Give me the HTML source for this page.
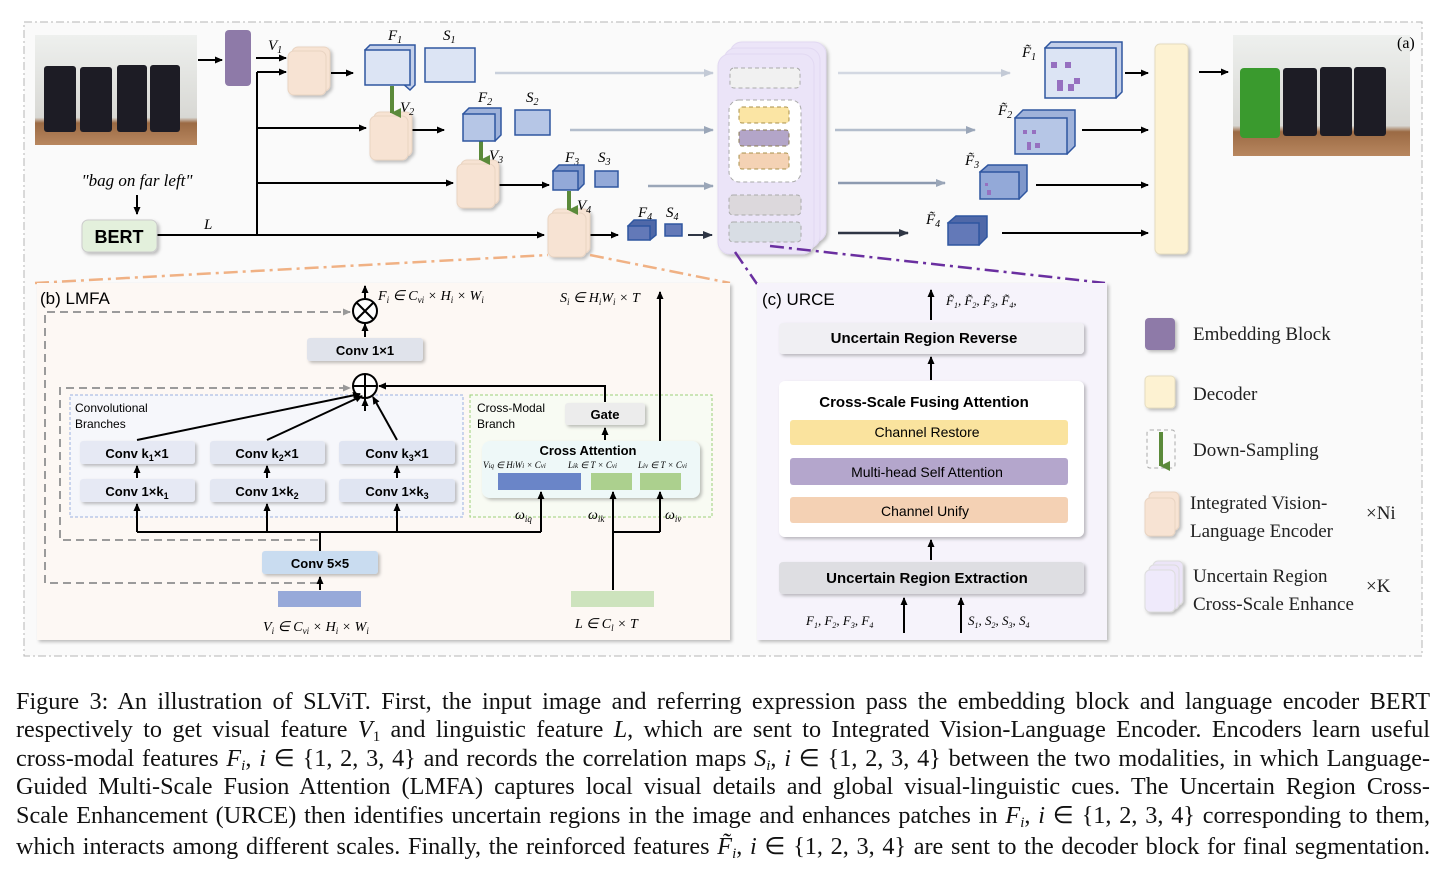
<!DOCTYPE html>
<html><head><meta charset="utf-8"><style>
body{margin:0;background:#fff;width:1440px;height:875px;overflow:hidden}
svg{position:absolute;left:0;top:0}
.cap{position:absolute;left:16px;top:688px;width:1414px;font-family:"Liberation Serif",serif;font-size:24.2px;line-height:28.4px;color:#111}
.cap div{text-align:justify;text-align-last:justify;white-space:nowrap;height:28.4px}
.cap div.l{margin-top:3px}
.cap sub{font-size:15px;line-height:0;vertical-align:-4px}
i{font-style:italic}
</style></head><body>
<svg width="1440" height="680" viewBox="0 0 1440 680" font-family="Liberation Sans, sans-serif">
<defs>
<marker id="a" markerWidth="8" markerHeight="8" refX="7" refY="4" orient="auto" markerUnits="userSpaceOnUse"><path d="M0,0.5 L8,4 L0,7.5z" fill="#000"/></marker>
<marker id="g" markerWidth="10" markerHeight="8" refX="9" refY="4" orient="auto" markerUnits="userSpaceOnUse"><path d="M0,0 L10,4 L0,8z" fill="#c3cad6"/></marker>
<marker id="g2" markerWidth="10" markerHeight="8" refX="9" refY="4" orient="auto" markerUnits="userSpaceOnUse"><path d="M0,0 L10,4 L0,8z" fill="#9aa6b8"/></marker>
<marker id="g3" markerWidth="10" markerHeight="8" refX="9" refY="4" orient="auto" markerUnits="userSpaceOnUse"><path d="M0,0 L10,4 L0,8z" fill="#2e3544"/></marker>
<marker id="gr" markerWidth="10" markerHeight="10" refX="5" refY="9" orient="auto" markerUnits="userSpaceOnUse"><path d="M0,0 L10,0 L5,10z" fill="#5b8a3a"/></marker>
<marker id="gd" markerWidth="8" markerHeight="8" refX="7" refY="4" orient="auto" markerUnits="userSpaceOnUse"><path d="M0,0.5 L8,4 L0,7.5z" fill="#999"/></marker>
<linearGradient id="img" x1="0" y1="0" x2="0" y2="1"><stop offset="0" stop-color="#eef0ee"/><stop offset="0.75" stop-color="#d8d8d4"/><stop offset="0.8" stop-color="#9b6a44"/><stop offset="1" stop-color="#b8875f"/></linearGradient>
<filter id="sh" x="-10%" y="-10%" width="130%" height="130%"><feDropShadow dx="2" dy="2" stdDeviation="1.5" flood-color="#000" flood-opacity="0.25"/></filter>
</defs>
<rect x="24" y="22" width="1398" height="634" fill="#fafafa" stroke="#b5b5b5" stroke-dasharray="8,3,2,3"/>
<rect x="35" y="35" width="162" height="110" fill="url(#img)"/>
<g fill="#1d1c25"><rect x="44" y="66" width="32" height="66" rx="3"/><rect x="80" y="67" width="32" height="65" rx="3"/><rect x="117" y="65" width="30" height="67" rx="3"/><rect x="150" y="65" width="30" height="67" rx="3"/></g>
<rect x="1233" y="35" width="177" height="121" fill="url(#img)"/>
<g fill="#1d1c25"><rect x="1283" y="68" width="34" height="68" rx="3"/><rect x="1320" y="67" width="32" height="69" rx="3"/><rect x="1354" y="67" width="32" height="69" rx="3"/></g>
<rect x="1240" y="68" width="40" height="70" rx="4" fill="#3a9a2e"/>
<text x="1397" y="48" font-family="Liberation Serif,serif" font-size="16">(a)</text>
<rect x="225" y="30" width="26" height="56" rx="4" fill="#8e7aa8"/>
<g stroke="#000" stroke-width="2" fill="none" marker-end="url(#a)">
<line x1="198" y1="60" x2="222" y2="60"/>
<line x1="256" y1="58" x2="286" y2="58"/>
<line x1="257" y1="72" x2="286" y2="72"/>
<line x1="257" y1="128" x2="366" y2="128"/>
<line x1="257" y1="183" x2="453" y2="183"/>
<line x1="157" y1="235" x2="544" y2="235"/>
<line x1="331" y1="73" x2="353" y2="73"/>
<line x1="412" y1="130" x2="444" y2="130"/>
<line x1="499" y1="185" x2="549" y2="185"/>
<line x1="590" y1="235" x2="618" y2="235"/>
<line x1="137" y1="195" x2="137" y2="214"/>
<line x1="1199" y1="72" x2="1228" y2="72"/>
<line x1="1125" y1="73" x2="1148" y2="73"/>
<line x1="1082" y1="130" x2="1148" y2="130"/>
<line x1="1036" y1="185" x2="1148" y2="185"/>
<line x1="1002" y1="233" x2="1148" y2="233"/>
</g>
<line x1="257" y1="72" x2="257" y2="236" stroke="#000" stroke-width="2"/>
<text x="268" y="50" font-family="Liberation Serif,serif" font-style="italic" font-size="15">V<tspan font-size="10" dy="3">1</tspan></text>
<text x="204" y="229" font-family="Liberation Serif,serif" font-style="italic" font-size="15">L</text>
<text x="137" y="186" text-anchor="middle" font-family="Liberation Serif,serif" font-style="italic" font-size="17">"bag on far left"</text>
<rect x="82" y="220" width="75" height="32" rx="6" fill="#e3f0dc" stroke="#ccc" filter="url(#sh)"/>
<text x="119" y="243" text-anchor="middle" font-weight="bold" font-size="18">BERT</text>
<g fill="#f7e3d3" stroke="#e9d4c2" filter="url(#sh)">
<rect x="292" y="47" width="38" height="44" rx="6"/><rect x="288" y="51" width="38" height="44" rx="6"/>
<rect x="374" y="112" width="38" height="44" rx="6"/><rect x="370" y="116" width="38" height="44" rx="6"/>
<rect x="461" y="160" width="38" height="44" rx="6"/><rect x="457" y="164" width="38" height="44" rx="6"/>
<rect x="552" y="209" width="38" height="44" rx="6"/><rect x="548" y="213" width="38" height="44" rx="6"/>
</g>
<g stroke="#5b8a3a" stroke-width="4" marker-end="url(#gr)"><line x1="392" y1="86" x2="392" y2="113"/><line x1="481" y1="138" x2="481" y2="160"/><line x1="569" y1="191" x2="569" y2="210"/></g>
<g font-family="Liberation Serif,serif" font-style="italic" font-size="15">
<text x="400" y="112">V<tspan font-size="10" dy="3">2</tspan></text>
<text x="489" y="160">V<tspan font-size="10" dy="3">3</tspan></text>
<text x="577" y="210">V<tspan font-size="10" dy="3">4</tspan></text>
<text x="388" y="40">F<tspan font-size="10" dy="3">1</tspan></text><text x="443" y="40">S<tspan font-size="10" dy="3">1</tspan></text>
<text x="478" y="102">F<tspan font-size="10" dy="3">2</tspan></text><text x="526" y="102">S<tspan font-size="10" dy="3">2</tspan></text>
<text x="565" y="162">F<tspan font-size="10" dy="3">3</tspan></text><text x="598" y="162">S<tspan font-size="10" dy="3">3</tspan></text>
<text x="638" y="217">F<tspan font-size="10" dy="3">4</tspan></text><text x="666" y="217">S<tspan font-size="10" dy="3">4</tspan></text>
</g>
<g stroke="#2f56a0" stroke-width="1.5">
<path d="M365,50 l5,-5 h45 v40 l-5,5z" fill="#c4d0ea"/><rect x="365" y="50" width="45" height="35" fill="#dce4f4"/>
<rect x="425" y="48" width="50" height="34" fill="#dce4f4"/>
<path d="M463,114 l6,-6 h32 v27 l-6,6z" fill="#9fb2da"/><rect x="463" y="114" width="32" height="27" fill="#b6c6e6"/>
<rect x="515" y="110" width="35" height="25" fill="#b6c6e6"/>
<path d="M553,171 l6,-6 h25 v19 l-6,6z" fill="#7f97ca"/><rect x="553" y="171" width="25" height="19" fill="#93a9d8"/>
<rect x="595" y="171" width="23" height="16" fill="#93a9d8"/>
<path d="M628,226 l6,-6 h22 v15 l-6,5z" fill="#4f68a8"/><rect x="628" y="226" width="22" height="14" fill="#6379b8"/>
<rect x="665" y="224" width="17" height="12" fill="#6379b8"/>
</g>
<line x1="688" y1="235" x2="712" y2="235" stroke="#2e3544" stroke-width="2" marker-end="url(#g3)"/>
<g stroke-width="2.5"><line x1="495" y1="73" x2="713" y2="73" stroke="#c9d0dc" marker-end="url(#g)"/><line x1="570" y1="130" x2="713" y2="130" stroke="#b3bdcc" marker-end="url(#g2)"/><line x1="648" y1="186" x2="713" y2="186" stroke="#9aa6b8" marker-end="url(#g2)"/>
<line x1="838" y1="73" x2="1010" y2="73" stroke="#d3d8e2" marker-end="url(#g)"/><line x1="835" y1="130" x2="975" y2="130" stroke="#b3bdcc" marker-end="url(#g2)"/><line x1="838" y1="183" x2="945" y2="183" stroke="#8d9ab0" marker-end="url(#g2)"/><line x1="838" y1="233" x2="908" y2="233" stroke="#2e3544" marker-end="url(#g3)"/></g>
<g stroke="#e2d9f2" filter="url(#sh)"><rect x="730" y="42" width="96" height="200" rx="12" fill="#ece5f8"/><rect x="724" y="48" width="96" height="200" rx="12" fill="#ebe4f8"/><rect x="718" y="54" width="96" height="200" rx="12" fill="#ebe4f8"/></g>
<g stroke="#aaa" stroke-dasharray="4,3"><rect x="730" y="68" width="70" height="20" rx="4" fill="#f1f1f1"/><rect x="729" y="100" width="72" height="82" rx="10" fill="#fff"/>
<rect x="739" y="107" width="50" height="16" rx="3" fill="#fbe5a4" stroke="#a8904a"/><rect x="739" y="130" width="50" height="16" rx="3" fill="#b3a5c8" stroke="#8a7a50"/><rect x="739" y="153" width="50" height="16" rx="3" fill="#f4d2b4" stroke="#a8904a"/>
<rect x="729" y="195" width="72" height="20" rx="4" fill="#dcd8dc"/><rect x="729" y="222" width="72" height="20" rx="4" fill="#d8dde4"/></g>
<g stroke="#2f56a0" stroke-width="1.5">
<path d="M1045,48 l6,-6 h71 v50 l-6,6z" fill="#c4d0ea"/><rect x="1045" y="48" width="71" height="50" fill="#dce4f4"/>
<path d="M1015,118 l8,-8 h52 v36 l-8,8z" fill="#9fb2da"/><rect x="1015" y="118" width="52" height="36" fill="#b6c6e6"/>
<path d="M980,172 l8,-7 h39 v26 l-8,8z" fill="#7f97ca"/><rect x="980" y="172" width="39" height="27" fill="#93a9d8"/>
<path d="M948,223 l8,-7 h31 v21 l-8,8z" fill="#4f68a8"/><rect x="948" y="223" width="31" height="22" fill="#6379b8"/>
</g>
<g fill="#9670c0"><rect x="1051" y="62" width="6" height="6"/><rect x="1065" y="62" width="6" height="6"/><rect x="1057" y="80" width="6" height="11"/><rect x="1068" y="84" width="6" height="7"/><rect x="1074" y="78" width="6" height="6"/>
<rect x="1023" y="130" width="4" height="4"/><rect x="1032" y="130" width="4" height="4"/><rect x="1027" y="142" width="4" height="8"/><rect x="1035" y="143" width="5" height="5"/>
<rect x="985" y="183" width="3" height="3"/><rect x="987" y="190" width="4" height="5"/></g>
<g font-family="Liberation Serif,serif" font-style="italic" font-size="15">
<text x="1022" y="57">F̃<tspan font-size="10" dy="3">1</tspan></text><text x="998" y="115">F̃<tspan font-size="10" dy="3">2</tspan></text>
<text x="965" y="165">F̃<tspan font-size="10" dy="3">3</tspan></text><text x="926" y="224">F̃<tspan font-size="10" dy="3">4</tspan></text></g>
<rect x="1155" y="44" width="33" height="210" rx="5" fill="#fdf2d2" stroke="#e5dcc0" filter="url(#sh)"/>
<polyline points="35,283 548,255" fill="none" stroke="#f0b184" stroke-width="2.5" stroke-dasharray="14,5,3,5"/>
<polyline points="590,255 730,283" fill="none" stroke="#f0b184" stroke-width="2.5" stroke-dasharray="14,5,3,5"/>
<line x1="735" y1="252" x2="757" y2="284" stroke="#6a2fa0" stroke-width="2.5" stroke-dasharray="14,5,3,5"/>
<line x1="770" y1="246" x2="1105" y2="283" stroke="#6a2fa0" stroke-width="2.5" stroke-dasharray="14,5,3,5"/>
<rect x="37" y="283" width="693" height="357" fill="#fdf8f4" filter="url(#sh)"/>
<text x="40" y="304" font-size="17">(b) LMFA</text>
<rect x="70" y="395" width="393" height="122" fill="#f6f7fb" stroke="#9bb1e0" stroke-dasharray="3,2"/>
<rect x="470" y="395" width="242" height="122" fill="#f8fbf3" stroke="#9bd07a" stroke-dasharray="3,2"/>
<text x="75" y="412" font-size="12">Convolutional</text><text x="75" y="428" font-size="12">Branches</text>
<text x="477" y="412" font-size="12">Cross-Modal</text><text x="477" y="428" font-size="12">Branch</text>
<g stroke="#9b9b9b" stroke-width="2" stroke-dasharray="8,5" fill="none">
<polyline points="318,583 45,583 45,312 350,312" marker-end="url(#gd)"/>
<polyline points="318,540 60,540 60,388 350,388" marker-end="url(#gd)"/></g>
<g filter="url(#sh)">
<rect x="307" y="338" width="116" height="23" rx="3" fill="#e0e3eb"/>
<rect x="80" y="441" width="115" height="23" rx="3" fill="#e6e9f4"/><rect x="210" y="441" width="115" height="23" rx="3" fill="#e3e7f2"/><rect x="339" y="441" width="116" height="23" rx="3" fill="#e0e5f2"/>
<rect x="80" y="479" width="115" height="23" rx="3" fill="#e6e9f4"/><rect x="210" y="479" width="115" height="23" rx="3" fill="#e3e7f2"/><rect x="339" y="479" width="116" height="23" rx="3" fill="#e0e5f2"/>
<rect x="565" y="403" width="80" height="22" rx="3" fill="#ececec"/>
<rect x="482" y="441" width="218" height="57" rx="8" fill="#eef8f8"/>
<rect x="262" y="551" width="116" height="23" rx="3" fill="#c9dcf0"/>
</g>
<g font-size="13" font-weight="bold" text-anchor="middle">
<text x="365" y="355">Conv 1×1</text>
<text x="137" y="458">Conv k<tspan font-size="9" dy="3">1</tspan><tspan dy="-3">×1</tspan></text><text x="267" y="458">Conv k<tspan font-size="9" dy="3">2</tspan><tspan dy="-3">×1</tspan></text><text x="397" y="458">Conv k<tspan font-size="9" dy="3">3</tspan><tspan dy="-3">×1</tspan></text>
<text x="137" y="496">Conv 1×k<tspan font-size="9" dy="3">1</tspan></text><text x="267" y="496">Conv 1×k<tspan font-size="9" dy="3">2</tspan></text><text x="397" y="496">Conv 1×k<tspan font-size="9" dy="3">3</tspan></text>
<text x="605" y="419">Gate</text><text x="588" y="455">Cross Attention</text><text x="320" y="568">Conv 5×5</text></g>
<g font-family="Liberation Serif,serif" font-style="italic" font-size="9"><text x="483" y="468">V<tspan font-size="7">iq</tspan> ∈ H<tspan font-size="7">i</tspan>W<tspan font-size="7">i</tspan> × C<tspan font-size="7">vi</tspan></text><text x="568" y="468">L<tspan font-size="7">ik</tspan> ∈ T × C<tspan font-size="7">vi</tspan></text><text x="638" y="468">L<tspan font-size="7">iv</tspan> ∈ T × C<tspan font-size="7">vi</tspan></text></g>
<rect x="498" y="473" width="83" height="17" fill="#6a85c8"/><rect x="591" y="473" width="41" height="17" fill="#acd08e"/><rect x="640" y="473" width="41" height="17" fill="#acd08e"/>
<rect x="278" y="591" width="83" height="16" fill="#97a9d9"/><rect x="571" y="591" width="83" height="16" fill="#cde3bd"/>
<g font-family="Liberation Serif,serif" font-style="italic" font-size="14">
<text x="263" y="631">V<tspan font-size="9" dy="3">i</tspan><tspan dy="-3"> ∈ C</tspan><tspan font-size="9" dy="3">vi</tspan><tspan dy="-3"> × H</tspan><tspan font-size="9" dy="3">i</tspan><tspan dy="-3"> × W</tspan><tspan font-size="9" dy="3">i</tspan></text>
<text x="575" y="628">L ∈ C<tspan font-size="9" dy="3">l</tspan><tspan dy="-3"> × T</tspan></text>
<text x="378" y="300">F<tspan font-size="9" dy="3">i</tspan><tspan dy="-3"> ∈ C</tspan><tspan font-size="9" dy="3">vi</tspan><tspan dy="-3"> × H</tspan><tspan font-size="9" dy="3">i</tspan><tspan dy="-3"> × W</tspan><tspan font-size="9" dy="3">i</tspan></text>
<text x="560" y="302">S<tspan font-size="9" dy="3">i</tspan><tspan dy="-3"> ∈ H</tspan><tspan font-size="9" dy="3">i</tspan><tspan dy="-3">W</tspan><tspan font-size="9" dy="3">i</tspan><tspan dy="-3"> × T</tspan></text>
<text x="515" y="519">ω<tspan font-size="9" dy="3">iq</tspan></text><text x="588" y="519">ω<tspan font-size="9" dy="3">ik</tspan></text><text x="665" y="519">ω<tspan font-size="9" dy="3">iv</tspan></text></g>
<g stroke="#000" stroke-width="2" fill="none">
<circle cx="365" cy="311" r="12" fill="#fff"/><path d="M357,303 L373,319 M373,303 L357,319"/>
<circle cx="365" cy="386" r="12" fill="#fff"/><path d="M353,386 h24 M365,374 v24"/>
<polyline points="137,532 541,532"/><line x1="320" y1="551" x2="320" y2="532"/>
<polyline points="613,590 613,532 660,532"/>
</g>
<g stroke="#000" stroke-width="2" marker-end="url(#a)">
<line x1="365" y1="337" x2="365" y2="324"/><line x1="365" y1="298" x2="365" y2="286"/><line x1="365" y1="411" x2="365" y2="399"/>
<line x1="137" y1="532" x2="137" y2="504"/><line x1="267" y1="532" x2="267" y2="504"/><line x1="397" y1="532" x2="397" y2="504"/>
<line x1="137" y1="478" x2="137" y2="466"/><line x1="267" y1="478" x2="267" y2="466"/><line x1="397" y1="478" x2="397" y2="466"/>
<line x1="137" y1="440" x2="360" y2="394"/><line x1="267" y1="440" x2="362" y2="396"/><line x1="397" y1="440" x2="373" y2="397"/>
<polyline points="605,402 605,386 379,386" fill="none"/><line x1="605" y1="440" x2="605" y2="428"/>
<line x1="541" y1="532" x2="541" y2="492"/><line x1="613" y1="532" x2="613" y2="492"/><line x1="660" y1="532" x2="660" y2="492"/>
<line x1="660" y1="441" x2="660" y2="292"/><line x1="320" y1="590" x2="320" y2="577"/>
</g>
<rect x="757" y="283" width="350" height="357" fill="#f6f3fb" filter="url(#sh)"/>
<text x="762" y="305" font-size="17">(c) URCE</text>
<g filter="url(#sh)"><rect x="779" y="323" width="305" height="31" rx="4" fill="#f0eff3"/><rect x="779" y="381" width="305" height="156" rx="6" fill="#fff"/>
<rect x="790" y="420" width="278" height="25" rx="3" fill="#fae39e"/><rect x="790" y="458" width="278" height="27" rx="3" fill="#b4a6cc"/><rect x="790" y="497" width="278" height="26" rx="3" fill="#f4d1b4"/>
<rect x="779" y="562" width="305" height="32" rx="4" fill="#dedee2"/></g>
<g text-anchor="middle" font-size="14"><text x="924" y="343" font-weight="bold" font-size="15">Uncertain Region Reverse</text><text x="924" y="407" font-weight="bold" font-size="15">Cross-Scale Fusing Attention</text>
<text x="927" y="437">Channel Restore</text><text x="927" y="477">Multi-head Self Attention</text><text x="925" y="516">Channel Unify</text><text x="927" y="583" font-weight="bold" font-size="15">Uncertain Region Extraction</text></g>
<g stroke="#000" stroke-width="2" marker-end="url(#a)"><line x1="931" y1="320" x2="931" y2="290"/><line x1="931" y1="380" x2="931" y2="357"/><line x1="931" y1="560" x2="931" y2="540"/><line x1="904" y1="633" x2="904" y2="598"/><line x1="961" y1="633" x2="961" y2="598"/></g>
<g font-family="Liberation Serif,serif" font-style="italic" font-size="13">
<text x="946" y="305">F̃<tspan font-size="8" dy="3">1</tspan><tspan dy="-3">, F̃</tspan><tspan font-size="8" dy="3">2</tspan><tspan dy="-3">, F̃</tspan><tspan font-size="8" dy="3">3</tspan><tspan dy="-3">, F̃</tspan><tspan font-size="8" dy="3">4</tspan><tspan dy="-3">,</tspan></text>
<text x="806" y="625">F<tspan font-size="8" dy="3">1</tspan><tspan dy="-3">,  F</tspan><tspan font-size="8" dy="3">2</tspan><tspan dy="-3">,  F</tspan><tspan font-size="8" dy="3">3</tspan><tspan dy="-3">,  F</tspan><tspan font-size="8" dy="3">4</tspan></text>
<text x="968" y="625">S<tspan font-size="8" dy="3">1</tspan><tspan dy="-3">, S</tspan><tspan font-size="8" dy="3">2</tspan><tspan dy="-3">, S</tspan><tspan font-size="8" dy="3">3</tspan><tspan dy="-3">, S</tspan><tspan font-size="8" dy="3">4</tspan></text></g>
<g filter="url(#sh)"><rect x="1145" y="318" width="30" height="32" rx="4" fill="#8e7aa8"/><rect x="1145" y="376" width="30" height="32" rx="4" fill="#fdf2d2" stroke="#e5dcc0"/>
<rect x="1149" y="492" width="30" height="38" rx="5" fill="#f7e3d3" stroke="#e9d4c2"/><rect x="1145" y="498" width="30" height="38" rx="5" fill="#f7e3d3" stroke="#e9d4c2"/>
<rect x="1153" y="561" width="30" height="44" rx="5" fill="#ece5f8" stroke="#ddd"/><rect x="1149" y="565" width="30" height="44" rx="5" fill="#ece5f8" stroke="#ddd"/><rect x="1145" y="570" width="30" height="42" rx="5" fill="#efeafb" stroke="#ddd"/></g>
<rect x="1147" y="430" width="28" height="38" rx="3" fill="none" stroke="#aaa" stroke-dasharray="4,3"/>
<line x1="1161" y1="432" x2="1161" y2="466" stroke="#5b8a3a" stroke-width="4" marker-end="url(#gr)"/>
<g font-family="Liberation Serif,serif" font-size="19" fill="#222">
<text x="1193" y="340">Embedding Block</text><text x="1193" y="400">Decoder</text><text x="1193" y="456">Down-Sampling</text>
<text x="1190" y="509">Integrated Vision-</text><text x="1190" y="537">Language Encoder</text><text x="1366" y="519">×Ni</text>
<text x="1193" y="582">Uncertain Region</text><text x="1193" y="610">Cross-Scale Enhance</text><text x="1366" y="592">×K</text></g>
</svg>
<div class="cap">
<div>Figure 3: An illustration of SLViT. First, the input image and referring expression pass the embedding block and language encoder BERT</div>
<div>respectively to get visual feature <i>V</i><sub>1</sub> and linguistic feature <i>L</i>, which are sent to Integrated Vision-Language Encoder. Encoders learn useful</div>
<div>cross-modal features <i>F<sub>i</sub></i>, <i>i</i> ∈ {1, 2, 3, 4} and records the correlation maps <i>S<sub>i</sub></i>, <i>i</i> ∈ {1, 2, 3, 4} between the two modalities, in which Language-</div>
<div>Guided Multi-Scale Fusion Attention (LMFA) captures local visual details and global visual-linguistic cues. The Uncertain Region Cross-</div>
<div>Scale Enhancement (URCE) then identifies uncertain regions in the image and enhances patches in <i>F<sub>i</sub></i>, <i>i</i> ∈ {1, 2, 3, 4} corresponding to them,</div>
<div class="l">which interacts among different scales. Finally, the reinforced features <i>F̃<sub>i</sub></i>, <i>i</i> ∈ {1, 2, 3, 4} are sent to the decoder block for final segmentation.</div>
</div>
</body></html>
